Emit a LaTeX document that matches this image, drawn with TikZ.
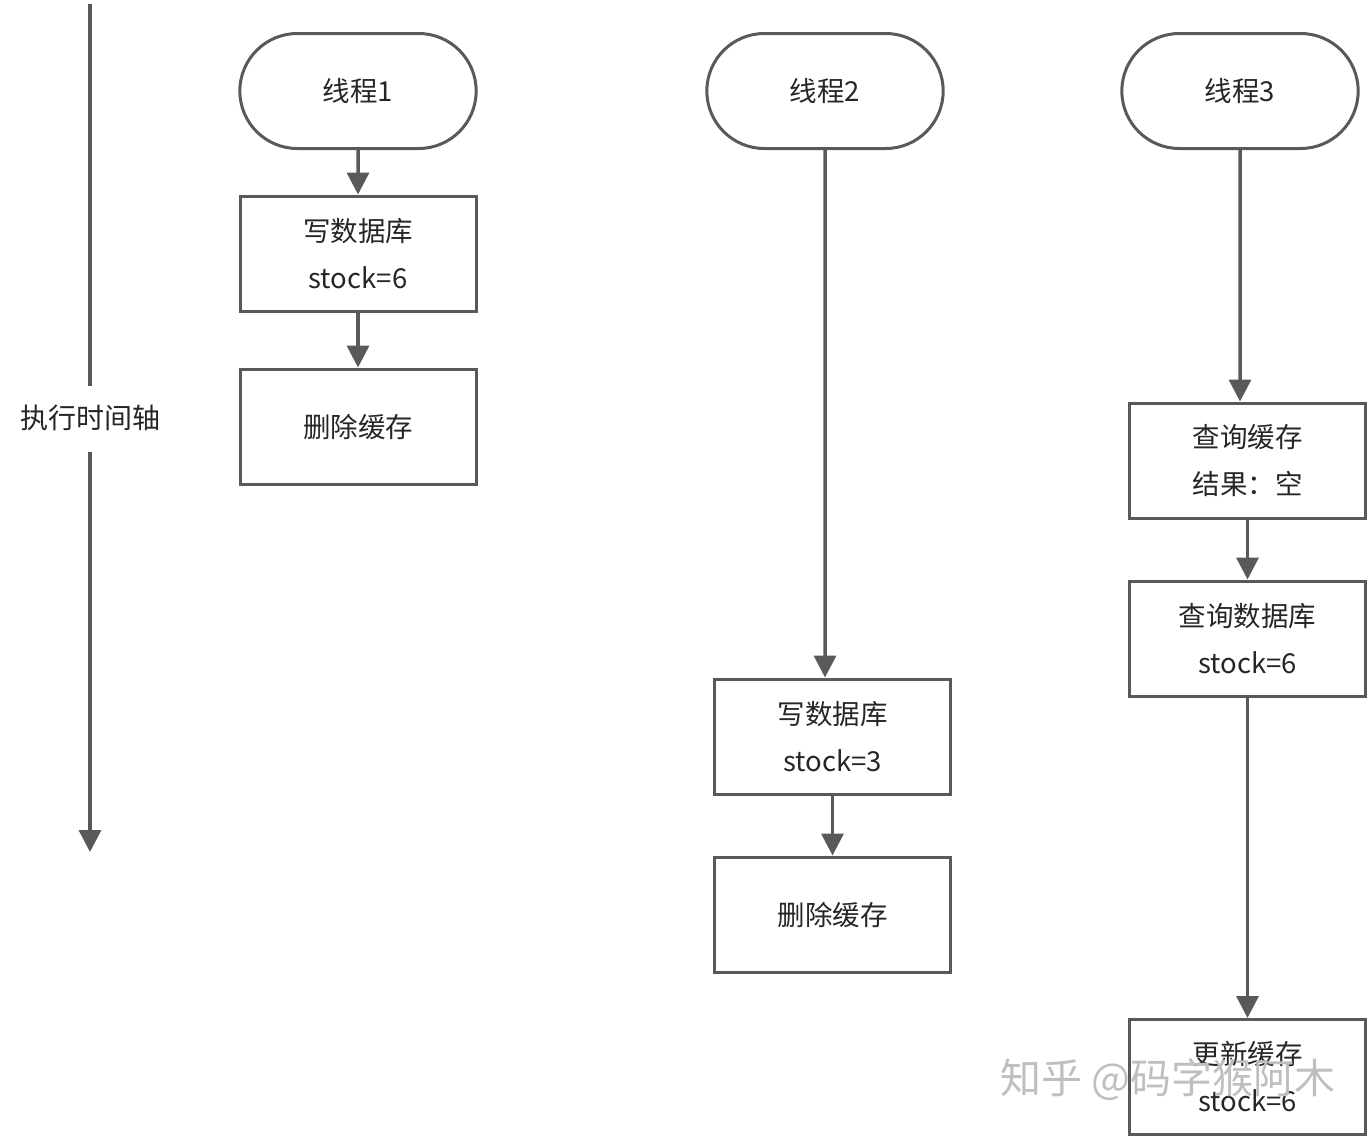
\documentclass[tikz,border=0pt]{standalone}
\usepackage{fontspec}
\setmainfont{Noto Sans CJK SC}
\usetikzlibrary{arrows.meta,shapes.misc}
\definecolor{ln}{HTML}{595959}
\tikzset{
  proc/.style={draw=ln, line width=3pt, minimum width=236pt, minimum height=115pt, align=center, font=\fontsize{27.5}{47}\selectfont, text=black!85},
  term/.style={draw=ln, line width=3pt, rounded rectangle, minimum width=243pt, minimum height=115pt, font=\fontsize{27.5}{30}\selectfont, text=black!85},
  flow/.style={draw=ln, line width=3.5pt, -{Triangle[length=22pt,width=22pt]}},
  axislbl/.style={font=\fontsize{28}{30}\selectfont, text=black!85},
  wm/.style={font=\fontsize{41}{44}\selectfont, text=black!25}
}
\begin{document}
\begin{tikzpicture}[x=1pt,y=-1pt]
\useasboundingbox (0,0) rectangle (1371,1141);
% time axis
\coordinate (ax0) at (90,4);
\coordinate (ax1) at (90,852);
\node[axislbl] (axl) at (90,418) {执行时间轴};
\draw[draw=ln, line width=3.5pt] (ax0) -- (90,386);
\draw[flow] (90,452) -- (ax1);
% thread 1
\node[term] (t1) at (358,91) {线程1};
\node[proc] (a1) at (358,253.5) {写数据库\\stock=6};
\node[proc] (a2) at (358,426.5) {删除缓存};
\draw[flow] (t1) -- (a1);
\draw[flow] (a1) -- (a2);
% thread 2
\node[term] (t2) at (825,91) {线程2};
\node[proc] (b1) at (832.5,736.5) {写数据库\\stock=3};
\node[proc] (b2) at (832.5,914.5) {删除缓存};
\draw[flow] (t2) -- (t2.south |- b1.north);
\draw[flow] (b1) -- (b2);
% thread 3
\node[term] (t3) at (1240,91) {线程3};
\node[proc] (c1) at (1247.5,460.5) {查询缓存\\结果：空};
\node[proc] (c2) at (1247.5,638.5) {查询数据库\\stock=6};
\node[proc] (c3) at (1247.5,1077) {更新缓存\\stock=6};
\draw[flow] (t3) -- (t3.south |- c1.north);
\draw[flow] (c1) -- (c2);
\draw[flow] (c2) -- (c3);
% watermark
\node[wm] (wmk) at (1168,1080) {知乎 @码字猴阿木};
\end{tikzpicture}
\end{document}
